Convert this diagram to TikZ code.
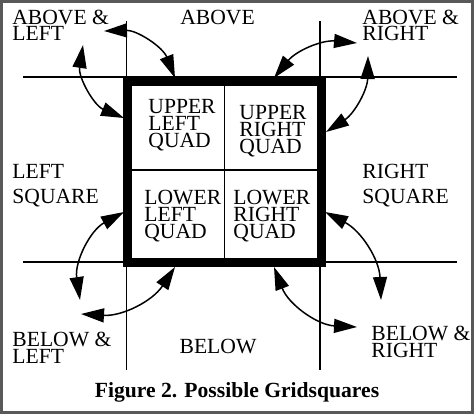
\documentclass[tikz,border=0pt]{standalone}
\usepackage{fontspec}
\setmainfont{Liberation Serif}
\usetikzlibrary{arrows.meta}
\definecolor{framegray}{gray}{0.35}

\begin{document}
\begin{tikzpicture}[x=0.5pt, y=0.5pt,
    every node/.style={inner sep=0pt, font=\fontsize{10.8}{8.5}\selectfont},
    lab/.style={anchor=base west, align=left},
    gridline/.style={line width=0.6pt},
    arr/.style={line width=0.75pt, {Triangle[length=11.5pt,width=7pt]}-{Triangle[length=11.5pt,width=7pt]}}]

    \useasboundingbox (0,0) rectangle (474,414);
    \draw [framegray, line width=1.5pt] (1.5,1.5) rectangle (472.5,412.5);

    \draw [gridline] (126.5,393) -- (126.5,44);
    \draw [gridline] (320,393) -- (320,44);
    \draw [gridline] (23,337) -- (457,337);
    \draw [gridline] (23,152) -- (457,152);

    \draw [line width=0.7pt] (224.5,151.5) -- (224.5,332.5);
    \draw [line width=0.7pt] (127.5,244) -- (321,244);
    \draw [line width=4.5pt] (127.5,151.5) rectangle (321,332.5);

    \node [lab, font=\fontsize{10.8}{8}\selectfont] (al) at (12, 374) {ABOVE \&\\LEFT};
    \node [anchor=base] (ab) at (217.5, 390) {ABOVE};
    \node [lab, font=\fontsize{10.8}{8}\selectfont] (ar) at (362, 374) {ABOVE \&\\RIGHT};
    \node [lab, font=\fontsize{10.8}{12.5}\selectfont] (ls) at (12, 211) {LEFT\\SQUARE};
    \node [lab, font=\fontsize{10.8}{12.5}\selectfont] (rs) at (362, 211) {RIGHT\\SQUARE};
    \node [lab] (bl) at (12, 51) {BELOW \&\\LEFT};
    \node [anchor=base] (be) at (218, 61) {BELOW};
    \node [lab] (br) at (371, 57) {BELOW \&\\RIGHT};

    \node [lab] (ul) at (148, 267) {UPPER\\LEFT\\QUAD};
    \node [lab] (ur) at (239, 261) {UPPER\\RIGHT\\QUAD};
    \node [lab] (ll) at (144, 176) {LOWER\\LEFT\\QUAD};
    \node [lab] (lr) at (233, 176) {LOWER\\RIGHT\\QUAD};

    \node [anchor=base, font=\fontsize{10.8}{12}\selectfont\bfseries] (cap) at (237, 17) {Figure 2. Possible Gridsquares};

    \coordinate (a1) at (104,383);  \coordinate (b1) at (175,336);
    \coordinate (a2) at (83,369);   \coordinate (b2) at (124,296);
    \coordinate (a3) at (274,336);  \coordinate (b3) at (357,371);
    \coordinate (a4) at (368,358);  \coordinate (b4) at (326,282);
    \coordinate (a5) at (124,202);  \coordinate (b5) at (80,114);
    \coordinate (a6) at (175,147);  \coordinate (b6) at (81,100);
    \coordinate (a7) at (325,202);  \coordinate (b7) at (381,114);
    \coordinate (a8) at (274,147);  \coordinate (b8) at (357,87);

    \draw [arr] (a1) to [bend left=35] (b1);
    \draw [arr] (a2) to [bend right=38] (b2);
    \draw [arr] (a3) to [bend left=28] (b3);
    \draw [arr] (a4) to [bend left=28] (b4);
    \draw [arr] (a5) to [bend right=35] (b5);
    \draw [arr] (a6) to [bend left=30] (b6);
    \draw [arr] (a7) to [bend left=30] (b7);
    \draw [arr] (a8) to [bend right=33] (b8);

  \end{tikzpicture}
\end{document}
